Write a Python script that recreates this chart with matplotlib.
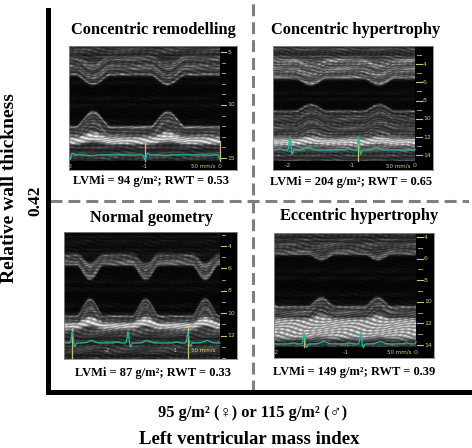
import numpy as np
import matplotlib.pyplot as plt

plt.rcParams['font.family'] = ['Liberation Serif', 'DejaVu Sans']
plt.rcParams['font.weight'] = 'bold'
plt.rcParams['lines.scale_dashes'] = False

W, H = 472, 448

# quadrant content
titles = ['Concentric remodelling', 'Concentric hypertrophy',
          'Normal geometry', 'Eccentric hypertrophy']
lvmi = [94, 204, 87, 149]
rwt = [0.53, 0.65, 0.33, 0.39]
rwt_cut = 0.42
lvmi_cut = (95, 115)

# M-mode strips
r_waves = [[-1.0, 0.0], [-1.97, -0.89], [-2.51, -1.69, -0.81], [-1.6, -0.79]]
# end-diastolic depths (cm): septum top, septum/cavity, cavity/posterior wall, pericardium, far field
walls = [[5.4, 7.2, 12.0, 13.1, 13.7],
         [3.3, 5.6, 9.1, 12.2, 12.9],
         [4.7, 5.7, 10.2, 10.9, 11.4],
         [5.0, 5.7, 10.4, 11.6, 13.4]]
# systolic excursion (cm): septum, posterior wall
wall_motion = [(0.9, 1.4), (0.7, 0.7), (1.3, 1.5), (0.5, 0.8)]
# grey level: right ventricle, septum, posterior wall, pericardium, far field
tissue = [[0.36, 0.62, 0.50, 0.95, 0.40],
          [0.45, 0.72, 0.48, 0.92, 0.52],
          [0.12, 0.62, 0.50, 0.95, 0.45],
          [0.40, 0.55, 0.50, 0.80, 0.45]]
ecg_depth = [14.7, 13.4, 12.66, 13.9]
ecg_amp = [-0.45, 1.4, 1.0, 0.95]
depth_ticks = [[5, 10, 15], [4, 6, 8, 10, 12, 14], [4, 6, 8, 10, 12], [4, 6, 8, 10, 12, 14]]
time_ticks = [[-2, -1, 0], [-2, -1, 0], [-2, -1], [-2, -1, 0]]
markers = [[-1.0, 0.0], [-0.89], [-2.51, -0.81], [-1.6]]

# layout, figure pixels
panel_box = [(69, 46, 237, 170), (273, 46, 433, 170), (64, 232, 237, 359), (274, 233, 434, 358)]
time_scale = [(220, 75), (415, 63.5), (243, 68), (416, 70)]
depth_scale = [(52, 5, 10.6), (64, 4, 9.15), (246, 4, 11.2), (237, 4, 10.8)]
echo_edge = [(220, 161), (415, 161), (220, 359), (416, 347)]
title_xy = [(153, 30), (356, 30), (152, 218), (359, 216)]
caption_xy = [(151, 181), (351, 182), (153, 373), (354, 372)]
time_label_y = [166, 166, 350, 352]


def smooth_step(x, w=0.07):
    return 1 / (1 + np.exp(-x / w))


def stripes(zz, tt, f, ph):
    band = 0.5 + 0.5 * np.sin(2 * np.pi * f * zz + 1.7 * np.sin(2 * np.pi * 0.53 * f * zz + ph))
    along = 0.75 + 0.25 * np.sin(2 * np.pi * (1.7 * tt + 0.9 * zz) + ph)
    return 0.4 + 0.6 * band * along


def beat_phase(t, rlist):
    T = np.diff(rlist).mean() if len(rlist) > 1 else 1.0
    rr = np.concatenate([rlist[0] - T * np.arange(4, 0, -1), rlist,
                         rlist[-1] + T * np.arange(1, 3)])
    k = np.searchsorted(rr, t, side='right') - 1
    return (t - rr[k]) / T, rr


def echo_image(t, z, rlist, wall, motion, gray):
    p, _ = beat_phase(t, rlist)
    m = np.sin(np.pi * np.clip((p - 0.08) / 0.45, 0, 1)) ** 1.5
    ds = (motion[0] * m)[None, :]
    dp = (-motion[1] * m)[None, :]
    Z = z[:, None]
    tt = t[None, :]
    b = [wall[0] + 0.6 * ds, wall[1] + ds, wall[2] + dp,
         wall[3] + 0.35 * dp, wall[4] + 0.2 * dp]
    s = [smooth_step(Z - bk) for bk in b]
    img = (gray[0] * stripes(Z, tt, 1.7, 0.3) * (1 - s[0])
           + gray[1] * stripes(Z - ds, tt, 2.3, 1.1) * (s[0] - s[1])
           + 0.08 * stripes(Z, tt, 0.9, 2.4) * (s[1] - s[2])
           + gray[2] * stripes(Z - dp, tt, 2.1, 0.5) * (s[2] - s[3])
           + gray[3] * (s[3] - s[4])
           + gray[4] * stripes(Z, tt, 1.3, 2.0) * s[4] * np.exp(-(Z - wall[4]) / 6))
    img += 0.35 * np.exp(-((Z - b[2] - 0.1) / 0.08) ** 2)
    img += 0.25 * np.exp(-((Z - b[1] + 0.1) / 0.08) ** 2)
    # speckle-like grain, elongated along time as in M-mode
    streak = 0.5 + 0.5 * np.sin(2 * np.pi * (3.7 * Z + 0.8 * np.sin(2 * np.pi * 1.1 * tt + 1.7 * Z)))
    speck = 0.5 + 0.5 * np.sin(2 * np.pi * (11.0 * tt + 2.3 * Z) + 3.0 * np.sin(2 * np.pi * 0.9 * Z))
    grain = 0.5 + 0.3 * streak + 0.4 * streak * speck
    return np.clip(img * grain * 1.1, 0, 1)


def ecg_wave(tt, rlist, amp):
    _, rr = beat_phase(tt, rlist)
    g = lambda x, w: np.exp(-0.5 * (x / w) ** 2)
    e = np.zeros_like(tt)
    for r in rr:
        d = tt - r
        e += amp * (g(d, 0.012) - 0.35 * g(d - 0.035, 0.012)
                    + 0.22 * g(d - 0.28, 0.045) + 0.1 * g(d + 0.16, 0.025))
    return e


fig = plt.figure(figsize=(W / 100, H / 100), dpi=100)

# quadrant frame
ax = fig.add_axes([47.5 / W, (H - 391.5) / H, (469 - 47.5) / W, (391.5 - 10) / H])
ax.set_xlim(0, 1)
ax.set_ylim(0, 2 * rwt_cut * 1.0014)
x_cut = (253 - 47.5) / 421.5
for side in ['top', 'right']:
    ax.spines[side].set_visible(False)
for side in ['left', 'bottom']:
    ax.spines[side].set_linewidth(3.6)
    ax.spines[side].set_capstyle('projecting')
ax.axhline(rwt_cut, xmin=0.006, xmax=1, color='#808080', lw=2.2, dashes=(8.6, 4.3))
ax.axvline(x_cut, ymin=0, ymax=391.5 / 381.5, color='#808080', lw=2.2,
           dashes=(8.6, 4.3), clip_on=False)
ax.set_yticks([rwt_cut], labels=[f'{rwt_cut:.2f}'], rotation=90, va='center',
              fontsize=12.5, fontweight='bold')
ax.set_xticks([x_cut], labels=[f'{lvmi_cut[0]} g/m² (♀) or {lvmi_cut[1]} g/m² (♂)'],
              fontsize=11.8, fontweight='bold')
ax.tick_params(axis='both', length=0)
ax.tick_params(axis='y', pad=3)
ax.tick_params(axis='x', pad=10)
ax.set_ylabel('Relative wall thickness', fontsize=14, fontweight='bold', va='center')
ax.yaxis.set_label_coords((9.5 - 47.5) / 421.5, (391.5 - 188) / 381.5)
ax.set_xlabel('Left ventricular mass index', fontsize=13.5, fontweight='bold', va='center')
ax.xaxis.set_label_coords((249 - 47.5) / 421.5, -(439.5 - 391.5) / 381.5)

for i in range(4):
    fig.text(title_xy[i][0] / W, 1 - title_xy[i][1] / H, titles[i],
             ha='center', va='center', fontsize=11.8)
    fig.text(caption_xy[i][0] / W, 1 - caption_xy[i][1] / H,
             f'LVMi = {lvmi[i]} g/m²; RWT = {rwt[i]:.2f}',
             ha='center', va='center', fontsize=9.0)

    left, top, right, bottom = panel_box[i]
    x0, spx = time_scale[i]
    y0, zref, zpx = depth_scale[i]
    px_t = lambda x: (x - x0) / spx
    px_z = lambda y: zref + (y - y0) / zpx
    t_l, t_r = px_t(left), px_t(right)
    z_t, z_b = px_z(top), px_z(bottom)
    t_e, z_e = px_t(echo_edge[i][0]), px_z(echo_edge[i][1])

    eax = fig.add_axes([left / W, 1 - bottom / H, (right - left) / W, (bottom - top) / H])
    eax.set_facecolor('black')
    t = np.linspace(t_l, t_e, 2 * (echo_edge[i][0] - left))
    z = np.linspace(z_t, z_e, 2 * (echo_edge[i][1] - top))
    img = echo_image(t, z, r_waves[i], walls[i], wall_motion[i], tissue[i])
    eax.imshow(img, extent=[t_l, t_e, z_e, z_t], cmap='gray', vmin=0, vmax=1,
               aspect='auto', interpolation='bilinear')

    tt = np.linspace(t_l, t_e, 800)
    for mk in markers[i]:
        eax.plot([mk, mk], [ecg_depth[i] - 1.3, z_e], color='#c8c070', lw=0.9)
    eax.plot(tt, ecg_depth[i] - ecg_wave(tt, r_waves[i], ecg_amp[i]), color='#22b8a0', lw=0.9)

    strip = t_r - t_e
    for d in np.arange(np.ceil(z_t), z_e + 0.01, 1.0):
        eax.plot([t_e + 0.12 * strip, t_e + 0.32 * strip], [d, d], color='#b8b860', lw=0.6)
    for d in depth_ticks[i]:
        eax.plot([t_e + 0.05 * strip, t_e + 0.38 * strip], [d, d], color='#c8c870', lw=0.8)
        eax.text(t_e + 0.45 * strip, d, str(d), color='#c8c878', fontsize=4.5,
                 ha='left', va='center', family='DejaVu Sans', weight='normal')
    zl = px_z(time_label_y[i])
    for tk in time_ticks[i]:
        eax.text(tk, zl, str(tk), color='#bbbbbb', fontsize=4.5, ha='center', va='center',
                 family='DejaVu Sans', weight='normal')
    eax.text(t_e - 0.03 * (t_e - t_l), zl, '50 mm/s', color='#d8d070', fontsize=4,
             ha='right', va='center', family='DejaVu Sans', weight='normal')

    eax.set_xlim(t_l, t_r)
    eax.set_ylim(z_b, z_t)
    eax.set_xticks([])
    eax.set_yticks([])
    for sp in eax.spines.values():
        sp.set_color('#888888')
        sp.set_linewidth(0.6)

fig.savefig('out.png', dpi=100)
